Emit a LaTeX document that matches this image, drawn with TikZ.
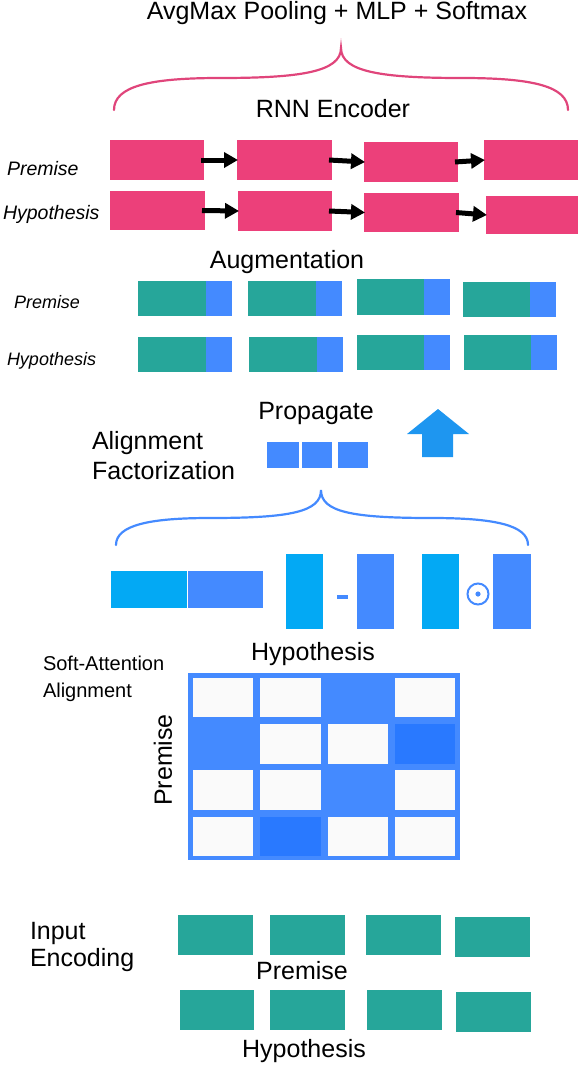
\documentclass[tikz,border=0pt]{standalone}
\usepackage{fontspec}
\setmainfont{Liberation Sans}
\usetikzlibrary{arrows.meta}
\definecolor{pinkc}{HTML}{EC407A}
\definecolor{pinkbr}{HTML}{E0457B}
\definecolor{greenc}{HTML}{26A69A}
\definecolor{bluec}{HTML}{448AFF}
\definecolor{lblue}{HTML}{03A9F4}
\definecolor{dblue}{HTML}{2979FF}
\definecolor{arrblue}{HTML}{1E96F0}
\definecolor{cellw}{HTML}{FAFAFA}
\newcommand\rbox[6]{\node[#1, anchor=north west, minimum width={(#5-#3)*1pt}, minimum height={(#6-#4)*1pt}] (#2) at (#3,#4) {};}
\begin{document}
\begin{tikzpicture}[x=1pt,y=-1pt,
  every node/.style={inner sep=0pt, outer sep=0pt},
  pinkbox/.style={fill=pinkc, draw=none},
  greenbox/.style={fill=greenc, draw=none},
  bluebox/.style={fill=bluec, draw=none},
  lbluebox/.style={fill=lblue, draw=none},
  cellbox/.style={fill=cellw, draw=none},
  dcellbox/.style={fill=dblue, draw=none},
  lbl/.style={font=\fontsize{25}{29}\selectfont},
  smlbl/.style={font=\fontsize{20}{24}\selectfont},
  ital/.style={font=\fontsize{19.5}{23}\selectfont\itshape},
  sital/.style={font=\fontsize{18}{22}\selectfont\itshape},
  rarr/.style={line width=5pt, -{Triangle[length=14pt,width=15pt]}},
  brace/.style={line width=2.2pt, line cap=round}
]
\useasboundingbox (0,0) rectangle (580,1066);

% ---------- top ----------
\node[lbl, anchor=base] (title) at (337,19) {AvgMax Pooling + MLP + Softmax};
\draw[brace, pinkbr] (114,110) .. controls (114,86) and (150,78) .. (220,78)
  .. controls (300,78) and (341,72) .. (341,48)
  .. controls (341,72) and (382,78) .. (462,78)
  .. controls (532,78) and (568,86) .. (568,110);
\node[lbl, anchor=base] (rnn) at (333,117) {RNN Encoder};

\node[ital, anchor=base west] (pprem) at (7,175) {Premise};
\node[ital, anchor=base west] (phyp) at (3,219) {Hypothesis};

\rbox{pinkbox}{p11}{110}{140}{204}{180}
\rbox{pinkbox}{p12}{237}{140}{332}{180}
\rbox{pinkbox}{p13}{364}{142}{458}{182}
\rbox{pinkbox}{p14}{484}{140}{578}{180}
\rbox{pinkbox}{p21}{110}{191}{205}{230}
\rbox{pinkbox}{p22}{238}{191}{332}{231}
\rbox{pinkbox}{p23}{364}{193}{459}{232}
\rbox{pinkbox}{p24}{486}{196}{578}{234}
\draw[rarr] ([xshift=-3pt]p11.east) -- ([xshift=1pt]p12.west);
\draw[rarr] ([xshift=-3pt]p12.east) -- ([xshift=1pt]p13.west);
\draw[rarr] ([xshift=-3pt]p13.east) -- ([xshift=1pt]p14.west);
\draw[rarr] ([xshift=-3pt]p21.east) -- ([xshift=1pt]p22.west);
\draw[rarr] ([xshift=-3pt]p22.east) -- ([xshift=1pt]p23.west);
\draw[rarr] ([xshift=-3pt]p23.east) -- ([xshift=1pt]p24.west);

% ---------- augmentation ----------
\node[lbl, anchor=base] (aug) at (287,268) {Augmentation};
\node[sital, anchor=base west] (aprem) at (14,308) {Premise};
\node[sital, anchor=base west] (ahyp) at (7,365) {Hypothesis};

\rbox{greenbox}{ag11}{138}{281}{206}{316}
\rbox{bluebox}{ab11}{206}{281}{232}{316}
\rbox{greenbox}{ag12}{248}{281}{316}{316}
\rbox{bluebox}{ab12}{316}{281}{342}{316}
\rbox{greenbox}{ag13}{357}{279}{424}{315}
\rbox{bluebox}{ab13}{424}{279}{450}{315}
\rbox{greenbox}{ag14}{463}{282}{530}{317}
\rbox{bluebox}{ab14}{530}{282}{556}{317}

\rbox{greenbox}{ag21}{138}{337}{206}{372}
\rbox{bluebox}{ab21}{206}{337}{232}{372}
\rbox{greenbox}{ag22}{249}{337}{317}{372}
\rbox{bluebox}{ab22}{317}{337}{343}{372}
\rbox{greenbox}{ag23}{357}{335}{424}{370}
\rbox{bluebox}{ab23}{424}{335}{450}{370}
\rbox{greenbox}{ag24}{464}{335}{531}{370}
\rbox{bluebox}{ab24}{531}{335}{557}{370}

% ---------- propagate / factorization ----------
\node[lbl, anchor=base] (prop) at (316,419) {Propagate};
\node[lbl, anchor=base west] (alA) at (92,449) {Alignment};
\node[lbl, anchor=base west] (alB) at (92,479) {Factorization};
\rbox{bluebox}{sq1}{267}{442}{299}{468}
\rbox{bluebox}{sq2}{302}{442}{332}{468}
\rbox{bluebox}{sq3}{338}{442}{368}{468}
\fill[arrblue] (438,409) -- (469,434) -- (453,434) -- (453,457) -- (422,457) -- (422,434) -- (407,434) -- cycle;

\draw[brace, bluec] (116,545) .. controls (116,525) and (150,518) .. (210,518)
  .. controls (290,518) and (321,512) .. (321,490)
  .. controls (321,512) and (352,518) .. (432,518)
  .. controls (494,518) and (528,525) .. (528,545);

\rbox{lbluebox}{f1a}{111}{571}{187}{608}
\rbox{bluebox}{f1b}{188}{571}{263}{608}
\rbox{lbluebox}{f2a}{286}{554}{323}{629}
\rbox{bluebox}{minus}{337}{595}{348}{599}
\rbox{bluebox}{f2b}{357}{554}{394}{629}
\rbox{lbluebox}{f3a}{422}{554}{459}{629}
\node[circle, draw=bluec, line width=2pt, minimum size=21pt] (odot) at (478,594) {};
\fill[bluec] (odot.center) circle (2.6);
\rbox{bluebox}{f3b}{493}{554}{531}{629}

% ---------- soft attention ----------
\node[smlbl, anchor=base west] (saA) at (43,670) {Soft-Attention};
\node[smlbl, anchor=base west] (saB) at (43,697) {Alignment};
\node[lbl, anchor=base] (mhyp) at (313,660) {Hypothesis};
\node[lbl, rotate=90] (mprem) at (163,760) {Premise};

\rbox{bluebox}{mat}{188}{673}{460}{860}
% row 1
\rbox{cellbox}{c11}{193}{678}{253}{717}
\rbox{cellbox}{c12}{260}{678}{321}{717}
\rbox{cellbox}{c14}{395}{678}{455}{717}
% row 2
\rbox{cellbox}{c22}{260}{724}{321}{764}
\rbox{cellbox}{c23}{328}{724}{388}{764}
\rbox{dcellbox}{c24}{395}{724}{455}{764}
% row 3
\rbox{cellbox}{c31}{193}{770}{253}{810}
\rbox{cellbox}{c32}{260}{770}{321}{810}
\rbox{cellbox}{c34}{395}{770}{455}{810}
% row 4
\rbox{cellbox}{c41}{193}{817}{253}{856}
\rbox{dcellbox}{c42}{260}{817}{321}{856}
\rbox{cellbox}{c43}{328}{817}{388}{856}
\rbox{cellbox}{c44}{395}{817}{455}{856}

% ---------- input encoding ----------
\node[lbl, anchor=base west] (inA) at (30,939) {Input};
\node[lbl, anchor=base west] (inB) at (30,966) {Encoding};
\rbox{greenbox}{i11}{178}{915}{253}{955}
\rbox{greenbox}{i12}{270}{915}{345}{955}
\rbox{greenbox}{i13}{366}{915}{441}{955}
\rbox{greenbox}{i14}{455}{917}{530}{957}
\node[lbl, anchor=base] (iprem) at (302,979) {Premise};
\rbox{greenbox}{i21}{180}{990}{254}{1030}
\rbox{greenbox}{i22}{270}{990}{345}{1030}
\rbox{greenbox}{i23}{367}{990}{442}{1030}
\rbox{greenbox}{i24}{456}{992}{531}{1032}
\node[lbl, anchor=base] (ihyp) at (304,1057) {Hypothesis};
\end{tikzpicture}
\end{document}
